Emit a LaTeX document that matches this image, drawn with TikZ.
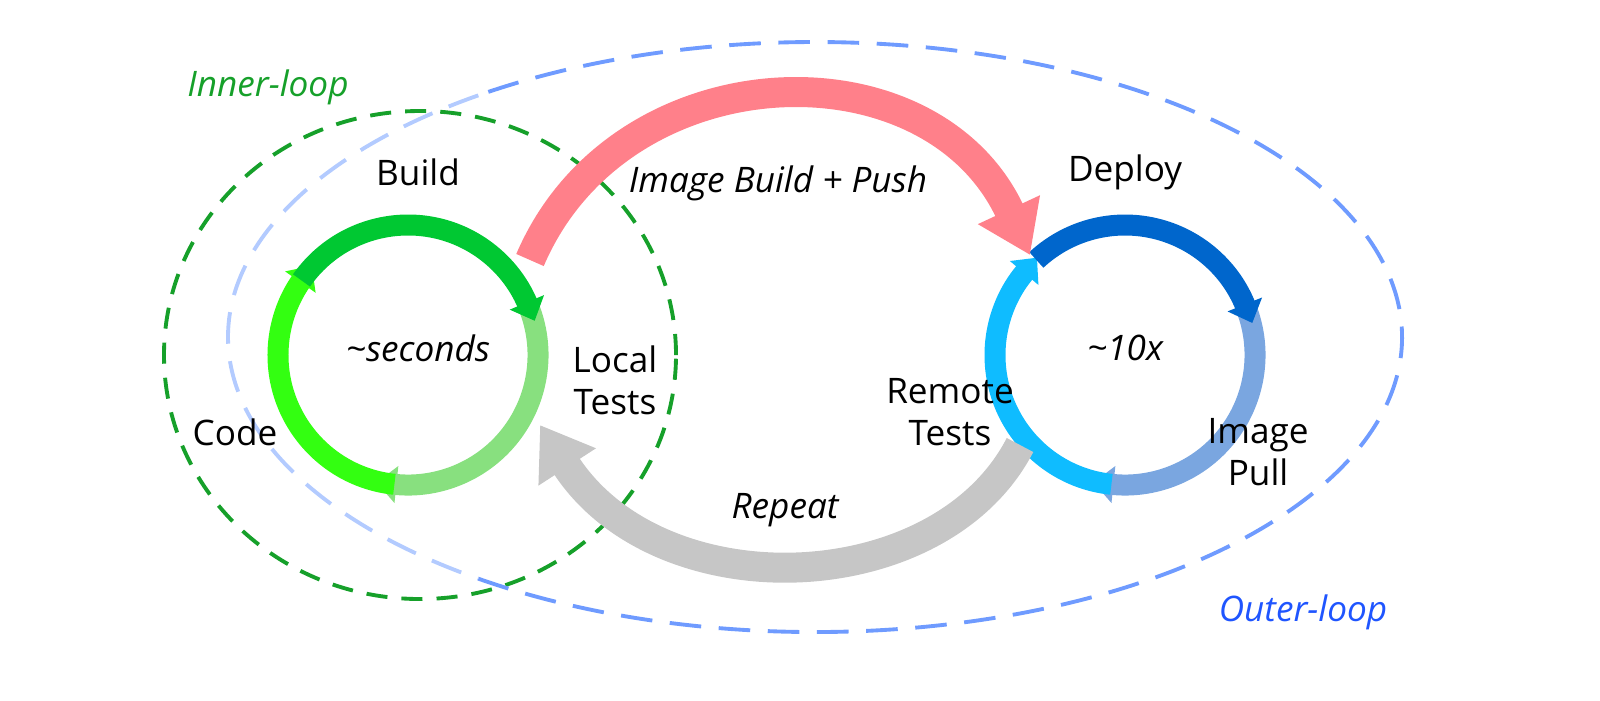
\documentclass[tikz,border=0pt]{standalone}
\usepackage{fontspec}
\setmainfont{Open Sans}
\usetikzlibrary{arrows.meta}
\definecolor{buildgreen}{HTML}{00C832}
\definecolor{testgreen}{HTML}{88E07F}
\definecolor{codegreen}{HTML}{33FF11}
\definecolor{loopgreen}{HTML}{16A02A}
\definecolor{deployblue}{HTML}{0066CC}
\definecolor{pullblue}{HTML}{7AA6E0}
\definecolor{remotecyan}{HTML}{0FBCFF}
\definecolor{outerblue}{HTML}{6F9BFF}
\definecolor{outerlight}{HTML}{B3CBFF}
\definecolor{outertext}{HTML}{1F55FF}
\definecolor{pushred}{HTML}{FF808A}
\definecolor{repeatgray}{HTML}{C6C6C6}
\tikzset{
  phase/.style={line width=0.21cm,shorten >=-0.18cm,-{Triangle[length=0.2cm,width=0.36cm]}},
  big/.style={line width=0.3cm,-{Triangle[length=0.5cm,width=0.65cm]}},
  lbl/.style={font=\fontsize{10}{12}\selectfont,align=center,inner sep=0pt},
  loop/.style={line width=1.1pt,dash pattern=on 6pt off 4pt}
}
\begin{document}
\begin{tikzpicture}
\useasboundingbox (0,0) rectangle (16,7);
\coordinate (L) at (4.08,3.45);
\coordinate (R) at (11.25,3.45);
\coordinate (O) at (8.15,3.63);
%Loops
\draw[loop,loopgreen] (4.2,3.45) ellipse[x radius=2.56,y radius=2.44];
\draw[loop,outerblue,dash pattern=on 9pt off 5pt] ([shift={(-125:5.87 and 2.95)}]O) arc[start angle=-125,end angle=125,x radius=5.87,y radius=2.95];
\draw[loop,outerlight,dash pattern=on 9pt off 5pt] ([shift={(125:5.87 and 2.95)}]O) arc[start angle=125,end angle=235,x radius=5.87,y radius=2.95];

%Left circle
\draw[phase,testgreen] ([shift={(23:1.3)}]L) arc[start angle=23,end angle=-96,radius=1.3];
\draw[phase,codegreen] ([shift={(264:1.3)}]L) arc[start angle=264,end angle=145,radius=1.3];
\draw[phase,buildgreen] ([shift={(145:1.3)}]L) arc[start angle=145,end angle=23,radius=1.3];

%Right circle
\draw[phase,pullblue] ([shift={(22:1.3)}]R) arc[start angle=22,end angle=-96,radius=1.3];
\draw[phase,remotecyan] ([shift={(264:1.3)}]R) arc[start angle=264,end angle=140,radius=1.3];
\draw[phase,deployblue] ([shift={(133:1.3)}]R) arc[start angle=133,end angle=22,radius=1.3];

%Big arrows
\coordinate (pushS) at (5.3,4.4);
\coordinate (pushE) at (10.3,4.45);
\coordinate (repS) at (10.2,2.55);
\coordinate (repE) at (5.4,2.75);
\draw[big,pushred] (pushS) .. controls (6.2,6.5) and (9.3,6.6) .. (pushE);
\draw[big,repeatgray] (repS) .. controls (9.4,1.0) and (6.6,0.9) .. (repE);

%Labels
\node[lbl] (build) at (4.18,5.28) {Build};
\node[lbl] (secs) at (4.18,3.52) {\itshape\textasciitilde seconds};
\node[lbl] (local) at (6.15,3.2) {Local\\Tests};
\node[lbl] (code) at (2.35,2.68) {Code};
\node[lbl,loopgreen] (inner) at (2.68,6.13) {\itshape Inner-loop};
\node[lbl] (push) at (7.78,5.17) {\itshape Image Build + Push};
\node[lbl] (deploy) at (11.25,5.28) {Deploy};
\node[lbl] (tenx) at (11.25,3.52) {\itshape\textasciitilde 10x};
\node[lbl] (remote) at (9.5,2.88) {Remote\\Tests};
\node[lbl] (pull) at (12.58,2.48) {Image\\Pull};
\node[lbl] (repeat) at (7.85,1.9) {\itshape Repeat};
\node[lbl,outertext] (outer) at (13.03,0.88) {\itshape Outer-loop};
\end{tikzpicture}
\end{document}
